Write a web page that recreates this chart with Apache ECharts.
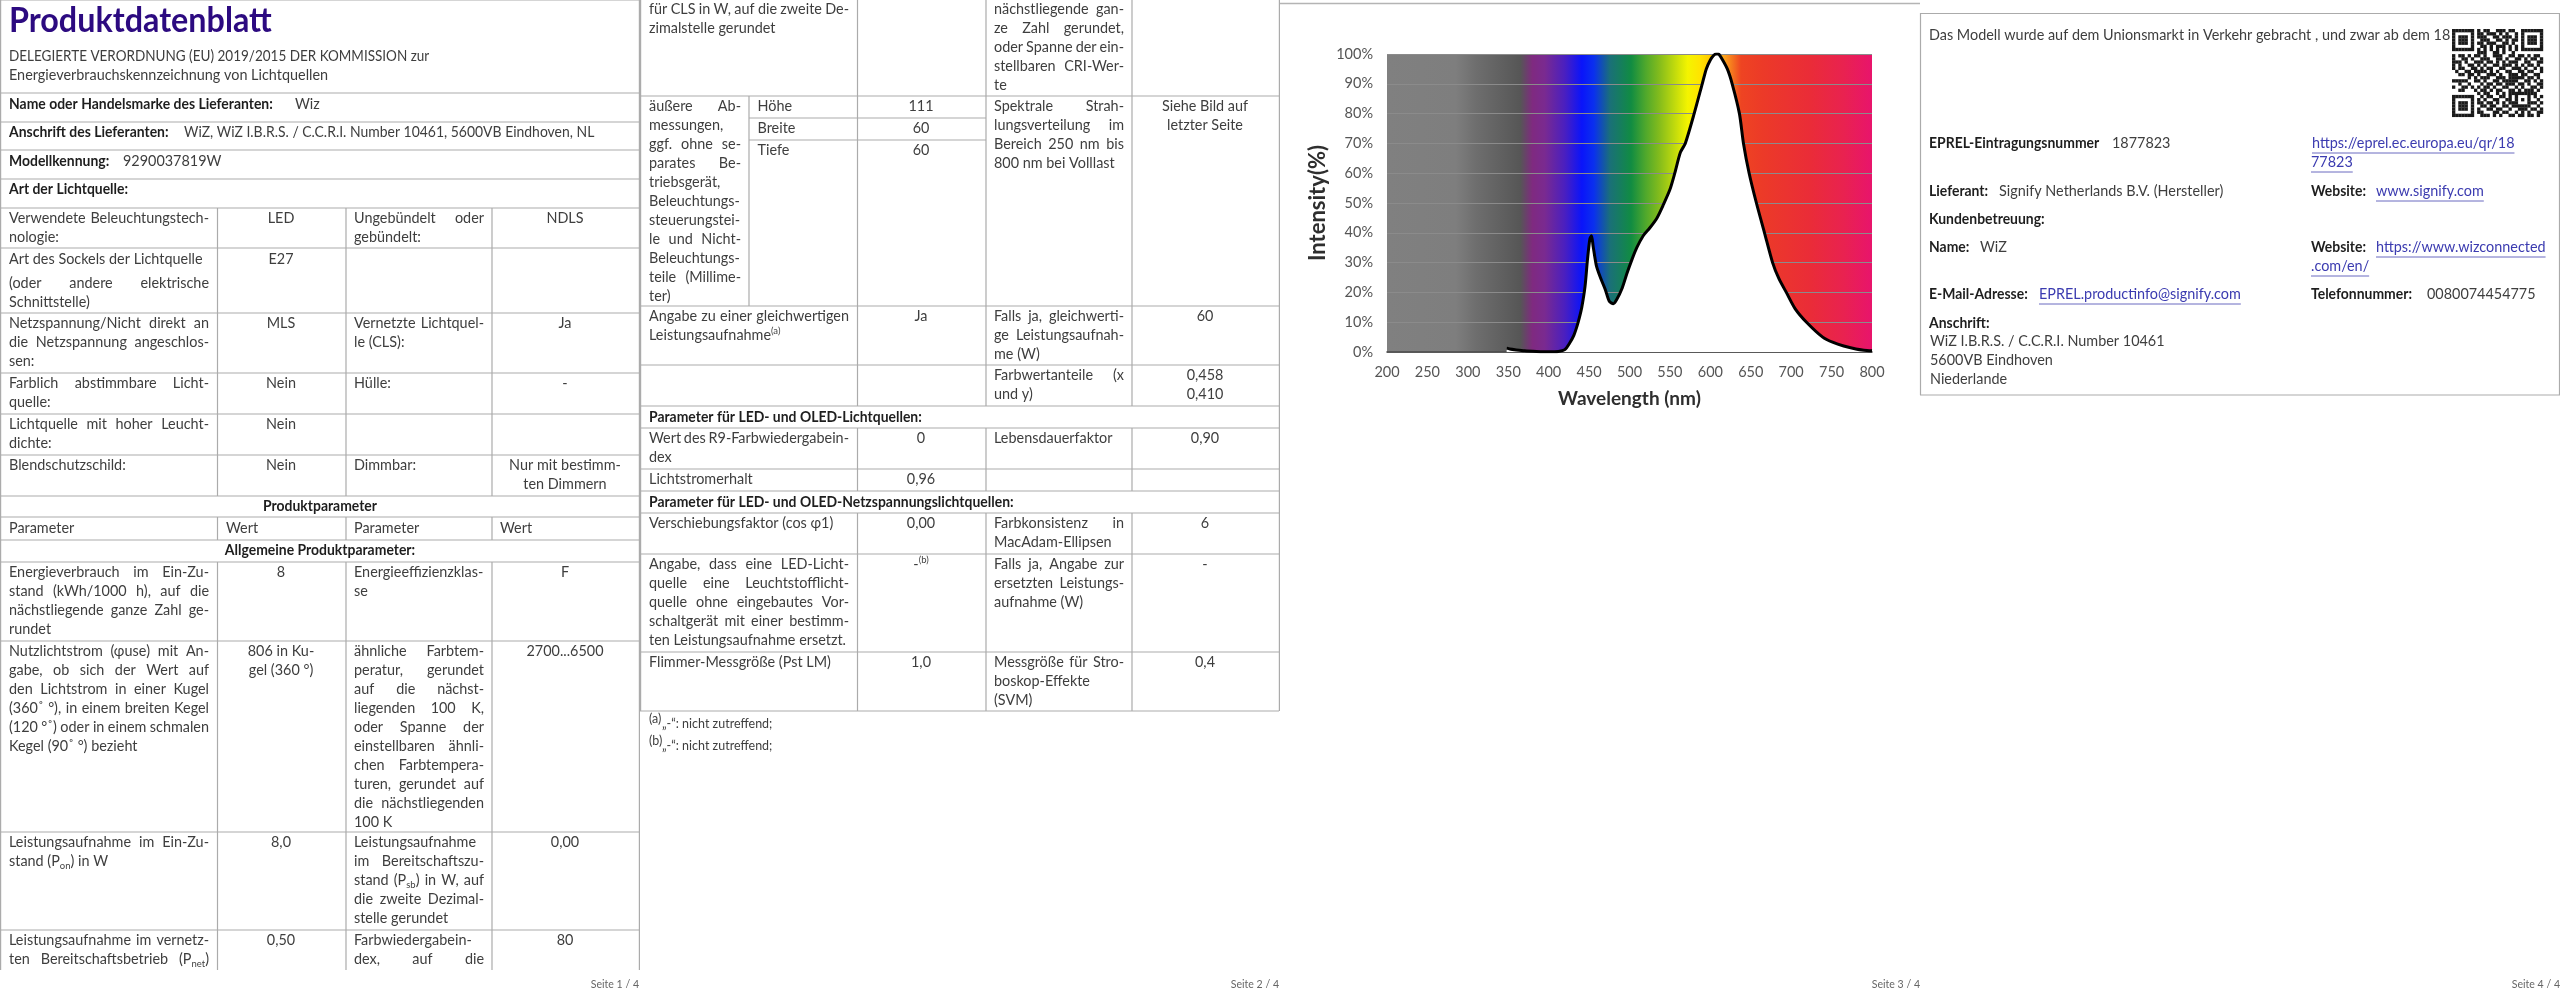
<![CDATA[<!DOCTYPE html>
<html><head><meta charset="utf-8">
<style>html,body{margin:0;padding:0;background:#fff}#c{width:2560px;height:1001px}</style>
<script src="https://cdn.jsdelivr.net/npm/echarts@6/dist/echarts.min.js"></script>
</head><body><div id="c"></div>
<script>
// ---- chart data ----
const wavelengths = [348,352,360,370,385,400,412,420,426,431,435,438,441,445,448,451,453,455,459,464,470,475,480,484,491,497,503,509,517,525,534,542,550,556,563,569,580,590,595,600,604,607,610,613,621,627,636,641,648,657,667,677,685,694,705,719,739,752,765,780,790,800];
const intensity   = [1.3,1.0,0.7,0.4,0.2,0.1,0.2,0.8,3,5.5,8.6,11.5,15,22,31,38,39,35.5,29,25,21,17,16.2,17.5,21.5,26.5,31,35,39,41.6,45,49.5,54.5,60,67,70,80,90,95,98,99.5,100,100,99,95,90,80,70,60,50,40,30,24.5,20,14.5,10,5,3.2,2,1,0.6,0.4];
const xTicks = {min:200,max:800,step:50};
const yTicks = {min:0,max:100,step:10};
const xName = 'Wavelength (nm)';
const yName = 'Intensity(%)';
// spectrum background colours across the wavelength range [nm, colour]
const spectrumStops = [[200,'#808080'],[285,'#7e7e7e'],[310,'#6e6e6e'],[365,'#565656'],[380,'#7f2a80'],[395,'#7a2a90'],[420,'#4a1fc0'],[441,'#0a14fa'],[456,'#0a30ee'],[476,'#1a7078'],[502,'#118c42'],[520,'#4fa82c'],[537,'#84bc1c'],[572,'#f4f400'],[587,'#ffe400'],[600,'#ffc800'],[618,'#fba01c'],[638,'#ee4422'],[665,'#ec3a28'],[724,'#ea2c38'],[765,'#e92250'],[800,'#e8146c']];

// ---- document text ----
const FONT='Lato', K=0.96, KB=0.93, SIZE=15, INK='#3e3e3e', BOLD='#1e1e1e', LINK='#3b3bb0', RULE='#ababab';
const page1Rows = [
 [208,['Verwendete Beleuchtungstech-','nologie:'],['LED'],['Ungebündelt oder','gebündelt:'],['NDLS']],
 [313,['Netzspannung/Nicht direkt an','die Netzspannung angeschlos-','sen:'],['MLS'],['Vernetzte Lichtquel-','le (CLS):'],['Ja']],
 [373,['Farblich abstimmbare Licht-','quelle:'],['Nein'],['Hülle:'],['-']],
 [414,['Lichtquelle mit hoher Leucht-','dichte:'],['Nein'],[],[]],
 [455,['Blendschutzschild:'],['Nein'],['Dimmbar:'],['Nur mit bestimm-','ten Dimmern']],
 [562,['Energieverbrauch im Ein-Zu-','stand (kWh/1000 h), auf die','nächstliegende ganze Zahl ge-','rundet'],['8'],['Energieeffizienzklas-','se'],['F']],
 [641,['Nutzlichtstrom (φuse) mit An-','gabe, ob sich der Wert auf','den Lichtstrom in einer Kugel','(360˚ °), in einem breiten Kegel','(120 °˚) oder in einem schmalen','Kegel (90˚ °) bezieht'],['806 in Ku-','gel (360 °)'],['ähnliche Farbtem-','peratur, gerundet','auf die nächst-','liegenden 100 K,','oder Spanne der','einstellbaren ähnli-','chen Farbtempera-','turen, gerundet auf','die nächstliegenden','100 K'],['2700...6500']],
 [832,['Leistungsaufnahme im Ein-Zu-','stand (P~on~) in W'],['8,0'],['Leistungsaufnahme','im Bereitschaftszu-','stand (P~sb~) in W, auf','die zweite Dezimal-','stelle gerundet'],['0,00']],
 [930,['Leistungsaufnahme im vernetz-','ten Bereitschaftsbetrieb (P~net~)|'],['0,50'],['Farbwiedergabein-','dex, auf die|'],['80']]
];
const page2Rows = [
 [-1.5,['für CLS in W, auf die zweite De-','zimalstelle gerundet'],[],['nächstliegende gan-','ze Zahl gerundet,','oder Spanne der ein-','stellbaren CRI-Wer-','te'],[]],
 [306,['Angabe zu einer gleichwertigen','Leistungsaufnahme^(a)^'],['Ja'],['Falls ja, gleichwerti-','ge Leistungsaufnah-','me (W)'],['60']],
 [365,[],[],['Farbwertanteile (x','und y)'],['0,458','0,410']],
 [428,['Wert des R9-Farbwiedergabein-','dex'],['0'],['Lebensdauerfaktor'],['0,90']],
 [469,['Lichtstromerhalt'],['0,96'],[],[]],
 [513,['Verschiebungsfaktor (cos φ1)'],['0,00'],['Farbkonsistenz in','MacAdam-Ellipsen'],['6']],
 [554,['Angabe, dass eine LED-Licht-','quelle eine Leuchtstofflicht-','quelle ohne eingebautes Vor-','schaltgerät mit einer bestimm-','ten Leistungsaufnahme ersetzt.'],['-^(b)^'],['Falls ja, Angabe zur','ersetzten Leistungs-','aufnahme (W)'],['-']],
 [652,['Flimmer-Messgröße (Pst LM)'],['1,0'],['Messgröße für Stro-','boskop-Effekte','(SVM)'],['0,4']]
];
const dimensionLines = ['äußere Ab-','messungen,','ggf. ohne se-','parates Be-','triebsgerät,','Beleuchtungs-','steuerungstei-','le und Nicht-','Beleuchtungs-','teile (Millime-','ter)'];
const dimensionRows = [[96,'Höhe','111'],[118,'Breite','60'],[140,'Tiefe','60']];
const spectralLines = ['Spektrale Strah-','lungsverteilung im','Bereich 250 nm bis','800 nm bei Volllast'];
const spectralValue = ['Siehe Bild auf','letzter Seite'];
const qrRows = [
'11111110101100111011001111111','10000010110111010100101000001','10111010111001101110101011101','10111010011100110101101011101','10111010110111001101001011101','10000010011010111010101000001','11111110101010101010101111111','00000000111001101001000000000',
'10110101101001110011011010110','10011010011100110100110101101','11101001110110101011100110011','10100110101001101110101011010','10110011010110011001110100101','01001101111010100110011011001','00110110100111010011101100110','00000101011100111011111011010','11111001101001101111100110101','00100100010110110111011010011','10011010101101001100101001101','00110001011010110011010111010','00000000101100101011100101100',
'11111110010110011010111010101','10000010101001100110100110010','10111010110110101011100011101','10111010011011001101111010010','10111010100110110010011101101','10000010110001101100101010011','11111110011101010011011011010','00000000000000000000000000000'].slice(0,29);

// ---- drawing helpers ----
const g=[];
const ctx=document.createElement('canvas').getContext('2d');
function w(s,size,bold){ctx.font=(bold?'bold ':'')+size+'px '+FONT;return ctx.measureText(s).width*K;}
function t(s,x,y,o){o=o||{};g.push({type:'text',x:x,y:y,scaleX:o.k||(o.bold?KB:K),silent:true,z:o.z||5,style:{text:s,fontFamily:FONT,fontSize:o.size||SIZE,fontWeight:o.bold?'bold':'normal',fill:o.color||(o.bold?BOLD:INK),align:o.align||'left',verticalAlign:'middle'}});}
function l(x1,y1,x2,y2,c,lw){g.push({type:'line',silent:true,z:3,shape:{x1:x1,y1:y1,x2:x2,y2:y2},style:{stroke:c||RULE,lineWidth:lw||1.2}});}
function runs(word){const out=[];word.split(/(~[^~]*~|\^[^^]*\^)/).forEach(p=>{if(!p)return;if(p[0]==='~')out.push({s:p.slice(1,-1),sub:1});else if(p[0]==='^')out.push({s:p.slice(1,-1),sup:1});else out.push({s:p});});return out;}
function rw(r){return w(r.s,(r.sub||r.sup)?SIZE*0.66:SIZE);}
function drawLine(str,x0,x1,y,just){
  const forceLeft=str.endsWith('|'); // the closing line of a clipped cell is still justified
  const text=forceLeft?str.slice(0,-1):str;
  const words=text.split(' ').map(runs);
  const ww=words.map(a=>a.reduce((s,r)=>s+rw(r),0));
  const total=ww.reduce((a,b)=>a+b,0);
  let gap=w(' ',SIZE);
  if((just||forceLeft)&&words.length>1)gap=(x1-x0-total)/(words.length-1);
  let x=x0;
  words.forEach((a,i)=>{a.forEach(r=>{const sm=r.sub||r.sup;t(r.s,x,y+(r.sub?4:r.sup?-5:0),sm?{size:SIZE*0.66}:{});x+=rw(r);});x+=gap;});
}
function block(lines,x0,x1,top,pitch){lines.forEach((s,i)=>drawLine(s,x0,x1,top+10.5+19*i,i<lines.length-1));}
function centre(lines,cx,top){lines.forEach((s,i)=>{
  const parts=runs(s);
  if(parts.length===1)t(s,cx,top+10.5+19*i,{align:'center'});
  else{let x=cx-parts.reduce((a,r)=>a+rw(r),0)/2;parts.forEach(r=>{t(r.s,x,top+10.5+19*i+(r.sup?-5:0),r.sup?{size:SIZE*0.66}:{});x+=rw(r);});}
});}
function rows(list,ox){list.forEach(r=>{block(r[1],ox+9,ox+209,r[0]);centre(r[2],ox+281,r[0]);block(r[3],ox+354,ox+484,r[0]);centre(r[4],ox+565,r[0]);});}

// ---- page 1 ----
t('Produktdatenblatt',9,21,{size:34,bold:true,color:'#2c0a80',k:0.95});
t('DELEGIERTE VERORDNUNG (EU) 2019/2015 DER KOMMISSION zur',9,56,{k:0.9});
t('Energieverbrauchskennzeichnung von Lichtquellen',9,75);
t('Name oder Handelsmarke des Lieferanten:',9,104,{bold:true});t('Wiz',295,104);
t('Anschrift des Lieferanten:',9,132,{bold:true});t('WiZ, WiZ I.B.R.S. / C.C.R.I. Number 10461, 5600VB Eindhoven, NL',184,132,{k:0.93});
t('Modellkennung:',9,161,{bold:true});t('9290037819W',123,161);
t('Art der Lichtquelle:',9,189,{bold:true});
rows(page1Rows,0);
t('Art des Sockels der Lichtquelle',9,259);t('E27',281,259,{align:'center'});
drawLine('(oder andere elektrische',9,209,283,true);t('Schnittstelle)',9,302);
t('Produktparameter',320,506,{bold:true,align:'center'});
t('Parameter',9,528);t('Wert',226,528);t('Parameter',354,528);t('Wert',500,528);
t('Allgemeine Produktparameter:',320,550,{bold:true,align:'center'});
[0,93,122,150,179,208,248,313,373,414,455,496,517,540,562,641,832,930].forEach(y=>l(0,y,639,y));
[0.6,639.4].forEach(x=>l(x,0,x,970));
[217.5,346,492].forEach(x=>{l(x,208,x,496);l(x,517,x,540);l(x,562,x,970);});

// ---- page 2 ----
rows(page2Rows,640);
block(dimensionLines,649,741,96);
dimensionRows.forEach(r=>{t(r[1],757.5,r[0]+10.5);t(r[2],921,r[0]+10.5,{align:'center'});});
block(spectralLines,994,1124,96);centre(spectralValue,1205,96);
t('Parameter für LED- und OLED-Lichtquellen:',649,417,{bold:true});
t('Parameter für LED- und OLED-Netzspannungslichtquellen:',649,502,{bold:true});
t('(a)',649,719,{size:13});t('„-“: nicht zutreffend;',662,724,{size:13});
t('(b)',649,741,{size:13});t('„-“: nicht zutreffend;',662,746,{size:13});
[96,306,365,406,428,469,491,513,554,652,711].forEach(y=>l(640,y,1279,y));
l(749,118,986,118);l(749,140,986,140);l(749,96,749,306);
[640.6,1279.4].forEach(x=>l(x,0,x,711));
[857.5,986,1132].forEach(x=>{l(x,0,x,406);l(x,428,x,491);l(x,513,x,711);});

// ---- page 3 and 4 frames ----
l(1280,3.5,1920,3.5,'#b4b4b4',1.4);
l(1920,13.5,2560,13.5);l(1920,395,2560,395);l(1920.5,13,1920.5,395);l(2559.5,13,2559.5,395);
t('Das Modell wurde auf dem Unionsmarkt in Verkehr gebracht , und zwar ab dem 18',1929,35);
g.push({type:'rect',silent:true,z:6,shape:{x:2451,y:28,width:94,height:93},style:{fill:'#fff'}});
(function(){const x0=2452,y0=29,m=91/29;
 const cell=(r,c,on)=>{if(on)g.push({type:'rect',silent:true,z:7,shape:{x:x0+c*m,y:y0+r*m,width:m+.2,height:m+.2},style:{fill:'#1a1a1a'}});};
 qrRows.forEach((row,r)=>{for(let c=0;c<29;c++){
   const ar=r>=20&&r<=24&&c>=20&&c<=24; // alignment pattern
   if(ar){const d=Math.max(Math.abs(r-22),Math.abs(c-22));cell(r,c,d!==1);}
   else cell(r,c,row[c]==='1');
 }});
})();
function link(s,x,y){t(s,x,y,{color:LINK});l(x,y+10,x+w(s,SIZE),y+10,'#6a6ac0',1);}
t('EPREL-Eintragungsnummer',1929,143,{bold:true});t('1877823',2112,143);
link('https://eprel.ec.europa.eu/qr/18',2312,143);link('77823',2311,162);
t('Lieferant:',1929,191,{bold:true});t('Signify Netherlands B.V. (Hersteller)',1999,191);
t('Website:',2311,191,{bold:true});link('www.signify.com',2376,191);
t('Kundenbetreuung:',1929,219,{bold:true});
t('Name:',1929,247,{bold:true});t('WiZ',1980,247);
t('Website:',2311,247,{bold:true});link('https://www.wizconnected',2376,247);link('.com/en/',2311,266);
t('E-Mail-Adresse:',1929,294,{bold:true});link('EPREL.productinfo@signify.com',2039,294);
t('Telefonnummer:',2311,294,{bold:true});t('0080074454775',2427,294);
t('Anschrift:',1929,323,{bold:true});
t('WiZ I.B.R.S. / C.C.R.I. Number 10461',1930,341);t('5600VB Eindhoven',1930,360);t('Niederlande',1930,379);

// ---- page footers ----
[[639,'Seite 1 / 4'],[1279,'Seite 2 / 4'],[1920,'Seite 3 / 4'],[2560,'Seite 4 / 4']].forEach(p=>t(p[1],p[0],984,{size:11,align:'right',color:'#666'}));

// ---- chart ----
const chart=echarts.init(document.getElementById('c'),null,{width:2560,height:1001});
const span=xTicks.max-xTicks.min;
chart.setOption({
  animation:false,backgroundColor:'#fff',
  grid:{left:1387,top:54,width:485,height:298,show:true,borderWidth:0,containLabel:false,
    backgroundColor:new echarts.graphic.LinearGradient(0,0,1,0,spectrumStops.map(s=>({offset:(s[0]-xTicks.min)/span,color:s[1]})))},
  xAxis:{type:'value',min:xTicks.min,max:xTicks.max,interval:xTicks.step,splitLine:{show:false},axisTick:{show:false},
    axisLine:{show:true,lineStyle:{color:'#4a4a4a',width:1.6}},
    axisLabel:{color:'#555',fontFamily:FONT,fontSize:14.5,margin:13},
    name:xName,nameLocation:'middle',nameGap:37,nameTextStyle:{fontFamily:FONT,fontWeight:'bold',fontSize:19,color:'#2e2e2e'}},
  yAxis:{type:'value',min:yTicks.min,max:yTicks.max,interval:yTicks.step,axisLine:{show:false},axisTick:{show:false},
    axisLabel:{color:'#555',fontFamily:FONT,fontSize:14.5,margin:14,formatter:'{value}%'},
    splitLine:{show:true,lineStyle:{color:'#8b8b8b',width:1}},
    name:yName,nameLocation:'middle',nameGap:58,nameTextStyle:{fontFamily:FONT,fontWeight:'bold',fontSize:22,color:'#2e2e2e'}},
  series:[{type:'line',data:wavelengths.map((x,i)=>[x,intensity[i]]),smooth:0.25,showSymbol:false,symbol:'none',clip:true,
    lineStyle:{color:'#000',width:3},areaStyle:{color:'#fff',opacity:1},silent:true}],
  graphic:{elements:g}
});
</script></body></html>]]>
